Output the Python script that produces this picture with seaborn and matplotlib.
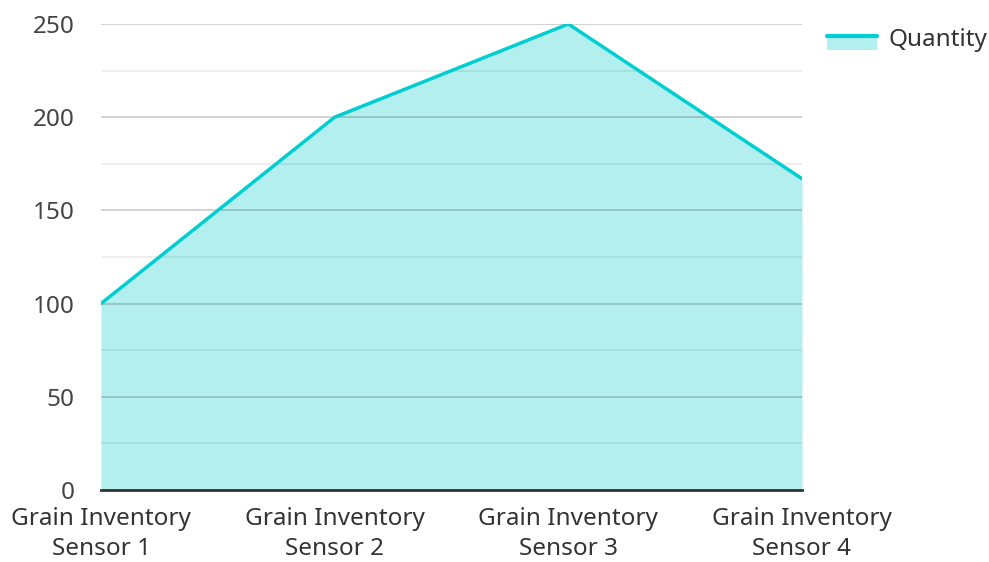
import matplotlib
matplotlib.use("Agg")
import matplotlib.pyplot as plt
import seaborn as sns
import pandas as pd
from matplotlib.patches import Rectangle
from matplotlib.lines import Line2D
from matplotlib.ticker import MultipleLocator
from matplotlib.legend_handler import HandlerBase

categories = ["Grain Inventory\nSensor 1", "Grain Inventory\nSensor 2",
              "Grain Inventory\nSensor 3", "Grain Inventory\nSensor 4"]
quantity = [100, 200, 250, 167]
series_name = "Quantity"
y_ticks = [0, 50, 100, 150, 200, 250]

sns.set_theme(style="white")
plt.rcParams['font.family'] = ['Noto Sans', 'DejaVu Sans']

line_color = "#00CED1"
fill_color = "#B2EFEE"
FS = 17.5

df = pd.DataFrame({"x": range(len(categories)), "y": quantity})

fig = plt.figure(figsize=(9.89, 5.62), dpi=100)
ax = fig.add_axes([101/989, 72/562, 701/989, 466/562])

ax.fill_between(df["x"], 0, df["y"], color=fill_color, linewidth=0, zorder=1)
sns.lineplot(data=df, x="x", y="y", ax=ax, color=line_color, linewidth=2.5, zorder=3)

ax.set_xlim(0, len(categories) - 1)
ax.set_ylim(0, 250)
ax.set_yticks(y_ticks)
ax.yaxis.set_minor_locator(MultipleLocator(25))
ax.set_axisbelow(False)
ax.grid(axis="y", which="major", color="#000000", alpha=0.2, linewidth=1.2, zorder=2)
ax.grid(axis="y", which="minor", color="#000000", alpha=0.08, linewidth=1.2, zorder=2)

ax.set_xticks(list(df["x"]))
ax.set_xticklabels(categories, fontsize=FS, color="#333333", linespacing=1.33)
ax.tick_params(axis="y", labelsize=FS, labelcolor="#444444", length=0, pad=19)
ax.tick_params(axis="x", length=0, pad=12)
ax.tick_params(which="minor", length=0)
ax.set_xlabel("")
ax.set_ylabel("")
for s in ["top", "right", "left"]:
    ax.spines[s].set_visible(False)
ax.spines["bottom"].set_color("#333333")
ax.spines["bottom"].set_linewidth(2)
ax.spines["bottom"].set_zorder(5)


class AreaHandler(HandlerBase):
    def create_artists(self, legend, orig_handle, xdescent, ydescent,
                       width, height, fontsize, trans):
        h = 11.0
        y0 = -ydescent + (height - h) / 2 - 3.5
        rect = Rectangle((-xdescent, y0), width, h, facecolor=fill_color,
                         edgecolor="none", transform=trans)
        line = Line2D([-xdescent, -xdescent + width], [y0 + h - 1, y0 + h - 1],
                      color=line_color, linewidth=3, transform=trans)
        return [rect, line]


proxy = Rectangle((0, 0), 1, 1)
fig.legend([proxy], [series_name], loc="upper left",
           bbox_to_anchor=(805/989, 1 - 6/562), frameon=False,
           fontsize=FS, handlelength=2.05, handletextpad=0.5,
           handler_map={Rectangle: AreaHandler()},
           labelcolor="#333333")

fig.savefig("out.png", dpi=100)
